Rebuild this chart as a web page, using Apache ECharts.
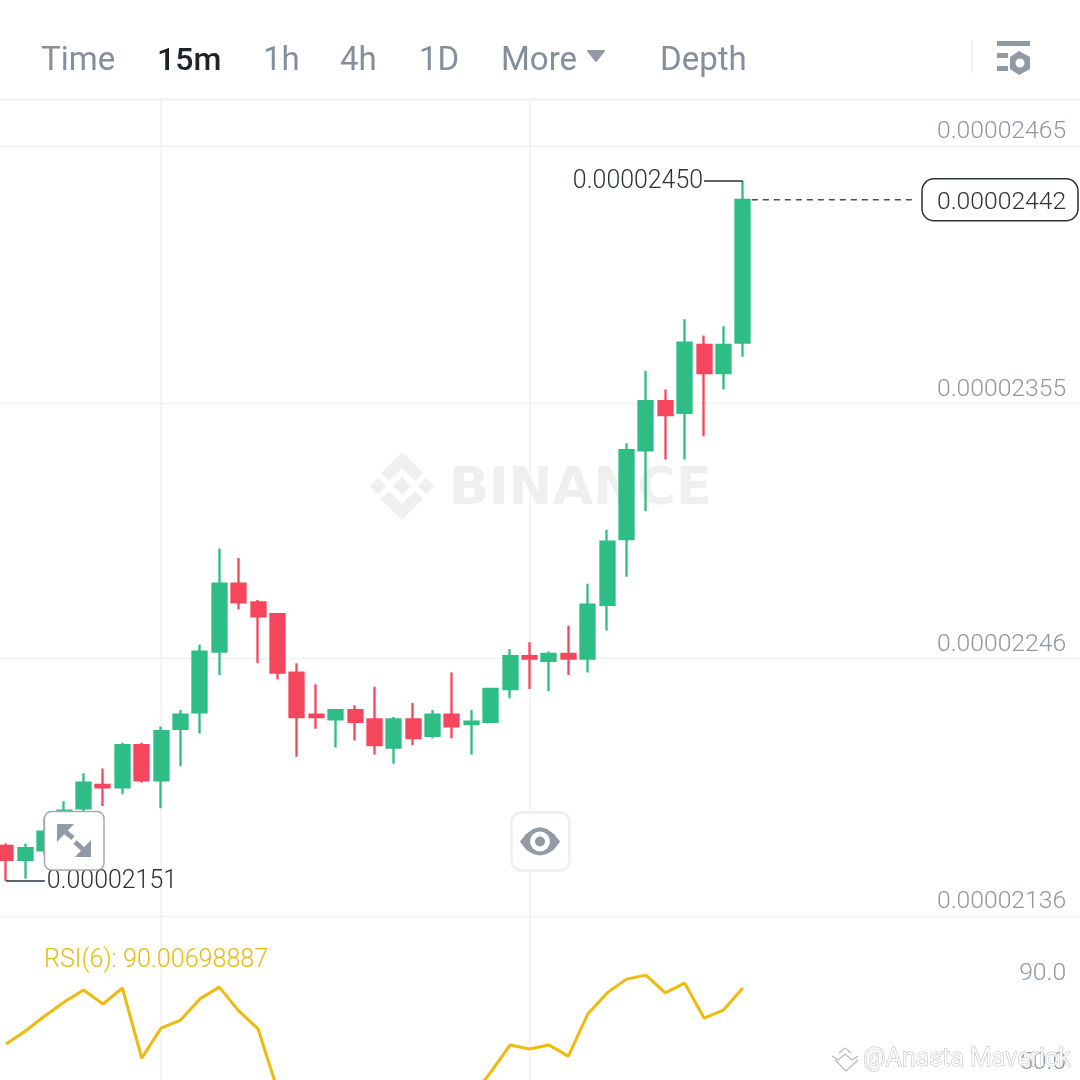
<!DOCTYPE html>
<html>
<head>
<meta charset="utf-8">
<style>html,body{margin:0;padding:0;background:#fff}#c{width:1080px;height:1080px}</style>
<script src="https://cdn.jsdelivr.net/npm/echarts@6/dist/echarts.min.js"></script>
</head>
<body>
<div id="c"></div>
<script>
// price values, in units of 1e-8
const opens  = [2166,2160,2164,2172,2182,2192,2191,2209,2194,2216,2223,2249,2278,2270,2265,2240,2222,2220,2224,2220,2208,2220,2213,2222,2218,2219,2233,2247,2245,2248,2246,2269,2297,2335,2356,2351,2380,2368,2381];
const closes = [2160,2165,2172,2181,2193,2191,2209,2194,2215,2222,2249,2278,2270,2264,2240,2221,2221,2224,2219,2209,2220,2212,2222,2217,2219,2233,2247,2246,2248,2246,2269,2296,2335,2356,2350,2381,2368,2380,2442];
const lows   = [2151,2152,2162,2170,2180,2183,2188,2193,2182,2200,2214,2239,2267,2244,2237,2204,2216,2208,2211,2205,2201,2209,2212,2212,2205,2219,2229,2233,2232,2239,2240,2258,2281,2309,2331,2331,2341,2361,2375];
const highs  = [2167,2167,2178,2185,2197,2199,2210,2210,2217,2224,2252,2293,2289,2271,2265,2244,2235,2224,2226,2234,2221,2227,2224,2240,2224,2233,2250,2253,2249,2260,2278,2301,2338,2369,2361,2391,2384,2388,2450];
const rsiValues = [64.8,70.7,77.4,83.7,89.1,82.8,90.0,58.5,72.0,75.6,85.1,90.4,79.7,71.6,44.2,30,32,36,34,30,33,31,35,33,41,52.2,64.4,62.6,64.4,59.4,78.3,87.8,94.0,95.8,87.8,92.2,76.5,80.1,90.007];
const priceTicks = [2136,2246,2355,2465];
const rsiTicks = [90,50];
const markedTimes = [8,27];
const highLabel = 2450, lowLabel = 2151, lastPrice = 2442;
const rsiLabel = 'RSI(6): 90.00698887';
const tabs = [['Time',41,false],['15m',157,true],['1h',263,false],['4h',340,false],['1D',419,false],['More',501,false],['Depth',660,false]];

const UNIT = 1e-8;
const fmt = v => (v*UNIT).toFixed(8);
const slots = 56;
const categories = Array.from({length:slots},(_,i)=>String(i));
const candles = opens.map((o,i)=>[o,closes[i],lows[i],highs[i]]);

const GREEN='#2ebd85', RED='#f6465d', GRID='#eff1f3', GREY='#8f97a3', FONT='Roboto';
const chart = echarts.init(document.getElementById('c'),null,{renderer:'canvas'});

const vLines = {symbol:'none',silent:true,z:0,animation:false,label:{show:false},
  lineStyle:{color:GRID,width:1.5,type:'solid'},data:markedTimes.map(i=>({xAxis:i}))};
const yAxisCommon = {type:'value',position:'right',axisLine:{show:false},
  splitLine:{show:true,lineStyle:{color:GRID,width:1.3}},
  axisLabel:{inside:true,margin:14,fontFamily:FONT,fontWeight:300,fontSize:24.7,color:GREY,verticalAlign:'bottom',lineHeight:24,padding:[0,2,2,0]}};

chart.setOption({
  animation:false,
  backgroundColor:'#fff',
  grid:[{left:-3.7,top:100,width:1085.84,height:816,outerBoundsMode:'none'},{left:-3.7,top:916,width:1085.84,height:164,outerBoundsMode:'none'}],
  xAxis:[
    {type:'category',gridIndex:0,data:categories,show:false},
    {type:'category',gridIndex:1,data:categories,show:false}
  ],
  yAxis:[
    Object.assign({},yAxisCommon,{gridIndex:0,min:2136,max:2484.66,
      axisTick:{show:false,customValues:priceTicks},
      axisLabel:Object.assign({},yAxisCommon.axisLabel,{customValues:priceTicks,formatter:v=>fmt(v)})}),
    {type:'value',position:'right',gridIndex:1,min:48.65,max:122.36,axisLine:{show:false},splitLine:{show:false},
      axisTick:{show:false,customValues:rsiTicks},
      axisLabel:Object.assign({},yAxisCommon.axisLabel,{customValues:rsiTicks,formatter:v=>v.toFixed(1)})}
  ],
  series:[
    {type:'line',xAxisIndex:0,yAxisIndex:0,data:[],z:1,markLine:vLines},
    {type:'line',xAxisIndex:1,yAxisIndex:1,data:[],z:1,markLine:vLines},
    {type:'candlestick',xAxisIndex:0,yAxisIndex:0,data:candles,barWidth:14.5,z:3,
      itemStyle:{color:GREEN,color0:RED,borderColor:GREEN,borderColor0:RED,borderWidth:2.3},
      markLine:{symbol:'none',silent:true,z:6,animation:false,
        lineStyle:{color:'#2b3139',width:1.5,type:'solid'},
        label:{position:'end',distance:1,offset:[0,1],fontFamily:FONT,fontWeight:300,fontSize:24.9,color:'#2b3139',formatter:p=>p.name},
        data:[
          [{name:fmt(highLabel),coord:['38',highLabel]},{coord:['36',highLabel]}],
          [{name:fmt(lowLabel),coord:['0',lowLabel],label:{offset:[1,1]}},{coord:['2',lowLabel]}]
        ]}},
    {type:'line',xAxisIndex:1,yAxisIndex:1,data:rsiValues,showSymbol:false,symbol:'none',z:3,clip:true,
      lineStyle:{color:'#f0b90b',width:3}}
  ]
});

const lastY = chart.convertToPixel({yAxisIndex:0},lastPrice);
const lastX = chart.convertToPixel({xAxisIndex:0},'38');
const txt = (t,x,y,font,fill,extra)=>({type:'text',x,y,z:20,silent:true,
  style:Object.assign({text:t,font,fill,verticalAlign:'middle',align:'left'},extra||{})});
const poly = (pts,fill,z)=>({type:'polygon',z:z||20,silent:true,shape:{points:pts},style:{fill}});
const WM='#eef0f0', ICON='#929aa5';
const els = [];
// toolbar
els.push({type:'rect',z:20,shape:{x:0,y:98,width:1080,height:3},style:{fill:'#f3f4f6'}});
tabs.forEach(([t,x,b])=>els.push(txt(t,x,62,(b?'500 32px ':'400 33px ')+FONT,b?'#1e2329':'#848e9c')));
els.push({type:'polygon',z:20,shape:{points:[[588,51],[604,51],[596,61]]},style:{fill:ICON,stroke:ICON,lineWidth:2,lineJoin:'round'}});
els.push({type:'rect',z:20,shape:{x:971,y:41,width:2,height:32},style:{fill:'#eceef0'}});
els.push({type:'rect',z:20,shape:{x:997,y:41,width:33,height:5},style:{fill:ICON}});
els.push({type:'rect',z:20,shape:{x:997,y:53,width:11,height:5},style:{fill:ICON}});
els.push({type:'rect',z:20,shape:{x:997,y:66,width:11,height:5},style:{fill:ICON}});
els.push(poly([[1019,51],[1030,57],[1030,69],[1019,75],[1010,69],[1010,57]],ICON));
els.push({type:'circle',z:21,shape:{cx:1020,cy:63,r:4.5},style:{fill:'#fff'}});
// watermark
els.push(poly([[402,452],[423,473],[415,481],[402,468],[389,481],[381,473]],WM,0));
els.push(poly([[402,520],[423,499],[415,491],[402,504],[389,491],[381,499]],WM,0));
els.push(poly([[402,477],[411,486],[402,495],[393,486]],WM,0));
els.push(poly([[378,478],[386,486],[378,494],[370,486]],WM,0));
els.push(poly([[426,478],[434,486],[426,494],[418,486]],WM,0));
els.push({type:'text',x:449,y:491,z:0,scaleX:1.03,style:{text:'BINANCE',font:'700 51px "DejaVu Sans"',fill:WM,verticalAlign:'middle'}});
// last price
els.push({type:'line',z:6,shape:{x1:lastX+9,y1:lastY,x2:912,y2:lastY},style:{stroke:'#474d57',lineWidth:1.5,lineDash:[6,5]}});
els.push({type:'rect',z:20,shape:{x:922,y:lastY-21,width:156,height:42,r:12},style:{fill:'#fff',stroke:'#2b3139',lineWidth:1.5}});
els.push(txt(fmt(lastPrice),937,lastY+3,'300 24.7px '+FONT,'#2b3139'));
// RSI legend
els.push(txt(rsiLabel,44,961,'300 25.1px '+FONT,'#e9b90f'));
// expand button
els.push({type:'rect',z:20,shape:{x:44.5,y:811.5,width:59.5,height:58.5,r:7},style:{fill:'#fff',stroke:'#a4abb4',lineWidth:1.5}});
els.push(poly([[57,824],[74,824],[57,842]],ICON,21));
els.push({type:'line',z:21,shape:{x1:63,y1:830,x2:73,y2:838},style:{stroke:ICON,lineWidth:5}});
els.push(poly([[91,857],[75,857],[91,840]],ICON,21));
els.push({type:'line',z:21,shape:{x1:75,y1:842,x2:85,y2:851},style:{stroke:ICON,lineWidth:5}});
// eye button
els.push({type:'rect',z:20,shape:{x:511.5,y:812.5,width:58,height:58,r:10},style:{fill:'#fff',stroke:'#eef0f2',lineWidth:3}});
els.push(poly([[520,841.5],[526,834],[533,829],[540,827],[547,829],[554,834],[560,841.5],[554,849.5],[547,854],[540,855.5],[533,854],[526,849.5]],ICON,21));
els.push({type:'circle',z:22,shape:{cx:540,cy:841.5,r:10},style:{fill:'#fff'}});
els.push({type:'circle',z:23,shape:{cx:540,cy:841.5,r:5},style:{fill:ICON}});
// author watermark
const wmStroke='#b4b8bd';
els.push({type:'polyline',z:24,shape:{points:[[835,1060],[846,1071],[858,1060]]},style:{stroke:wmStroke,fill:'none',lineWidth:1.2}});
els.push({type:'polyline',z:24,shape:{points:[[832,1056],[838,1060],[845,1054],[852,1060],[858,1056]]},style:{stroke:wmStroke,fill:'none',lineWidth:1.2}});
els.push({type:'polyline',z:24,shape:{points:[[839,1053],[845,1048],[851,1053]]},style:{stroke:wmStroke,fill:'none',lineWidth:1.2}});
els.push(txt('@Anasta Maverick',863,1060,'400 25px '+FONT,'rgba(255,255,255,0.85)',{stroke:wmStroke,lineWidth:0.9}));
chart.setOption({graphic:{elements:els}});
</script>
</body>
</html>
